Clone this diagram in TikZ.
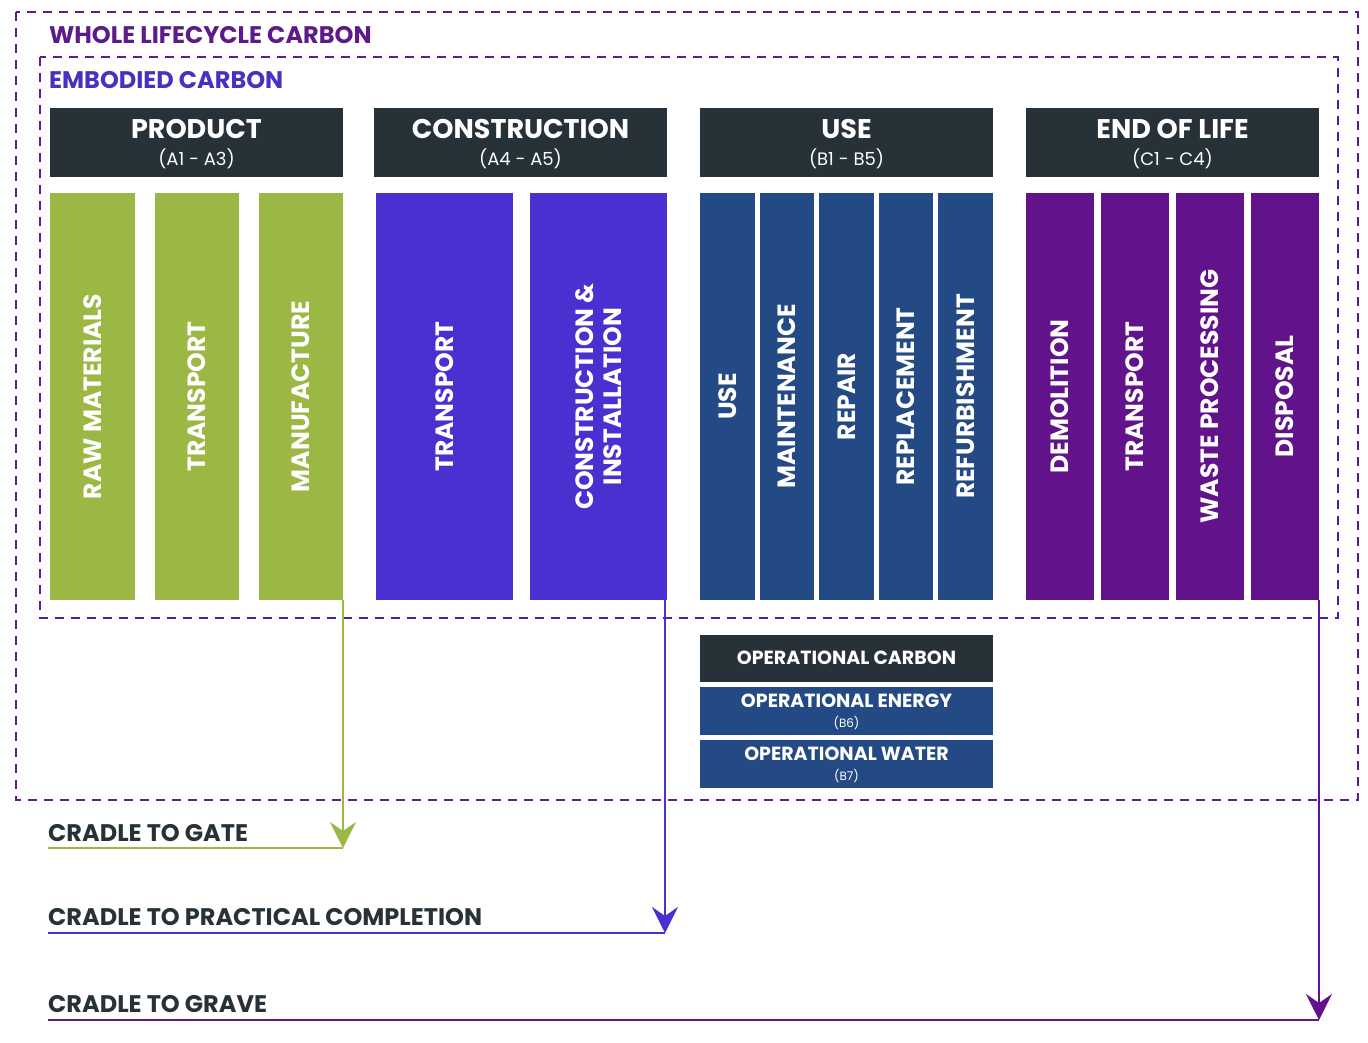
\documentclass[tikz,border=0pt]{standalone}
\usepackage{fontspec}
\setmainfont{Poppins}
\usetikzlibrary{arrows.meta}
\definecolor{dk}{HTML}{263238}
\definecolor{gr}{HTML}{9BB744}
\definecolor{bp}{HTML}{4A30D0}
\definecolor{nb}{HTML}{234A85}
\definecolor{pu}{HTML}{62128A}
\definecolor{ti}{HTML}{5C1A8A}
\definecolor{em}{HTML}{4A30C0}
\tikzset{
 col/.style={draw=none,inner sep=0pt,text=white,font=\fontsize{25}{28}\selectfont\bfseries,align=center},
 hdr/.style={fill=dk,inner sep=0pt,text=white,align=center},
 lbl/.style={anchor=base west,text=dk,inner sep=0pt,font=\fontsize{24}{26}\selectfont\bfseries},
 arr/.style={line width=2pt,-{Stealth[length=26pt,width=26pt,inset=9pt]}},
}
\newcommand{\colbox}[6]{\fill[#5] (#1,193) rectangle (#2,600);
 \node[col,rotate=90] (#6) at ({(#1+#2)/2},396.5) {#4};\coordinate (#6b) at (#2,600);}
\begin{document}
\begin{tikzpicture}[x=1pt,y=-1pt]
\useasboundingbox (0,0) rectangle (1368,1043);
\fill[white] (0,0) rectangle (1368,1043);
\draw[ti,line width=2pt,dash pattern=on 9pt off 7pt] (16,12) rectangle (1358,800);
\draw[ti!80!bp,line width=2pt,dash pattern=on 9pt off 7pt] (40,57) rectangle (1338,618);
\node[anchor=west,text=ti,font=\fontsize{24}{26}\selectfont\bfseries,inner sep=0pt] (t1) at (49,35) {WHOLE LIFECYCLE CARBON};
\node[anchor=west,text=em,font=\fontsize{24}{26}\selectfont\bfseries,inner sep=0pt] (t2) at (49,80) {EMBODIED CARBON};
\foreach \a/\b/\t/\s/\n in {50/343/PRODUCT/(A1 - A3)/h1,374/667/CONSTRUCTION/(A4 - A5)/h2,700/993/USE/(B1 - B5)/h3,1026/1319/END OF LIFE/(C1 - C4)/h4}{
 \fill[dk] (\a,108) rectangle (\b,177);
 \node[text=white,inner sep=0pt,font=\fontsize{27}{30}\selectfont\bfseries] (\n) at ({(\a+\b)/2},129) {\t};
 \node[text=white,inner sep=0pt,font=\fontsize{18}{20}\selectfont] (\n s) at ({(\a+\b)/2},159) {\s};
}
\colbox{50}{135}{}{RAW MATERIALS}{gr}{c1}
\colbox{155}{239}{}{TRANSPORT}{gr}{c2}
\colbox{259}{343}{}{MANUFACTURE}{gr}{c3}
\colbox{376}{513}{}{TRANSPORT}{bp}{c4}
\colbox{530}{667}{}{CONSTRUCTION \&\\INSTALLATION}{bp}{c5}
\colbox{700}{755}{}{USE}{nb}{c6}
\colbox{760}{814}{}{MAINTENANCE}{nb}{c7}
\colbox{819}{874}{}{REPAIR}{nb}{c8}
\colbox{879}{933}{}{REPLACEMENT}{nb}{c9}
\colbox{938}{993}{}{REFURBISHMENT}{nb}{c10}
\colbox{1026}{1094}{}{DEMOLITION}{pu}{c11}
\colbox{1101}{1169}{}{TRANSPORT}{pu}{c12}
\colbox{1176}{1244}{}{WASTE PROCESSING}{pu}{c13}
\colbox{1251}{1319}{}{DISPOSAL}{pu}{c14}
\fill[dk] (700,635) rectangle (993,682);
\node[text=white,inner sep=0pt,font=\fontsize{19}{21}\selectfont\bfseries] (o1) at (846.5,658) {OPERATIONAL CARBON};
\fill[nb] (700,687) rectangle (993,735);
\node[text=white,inner sep=0pt,font=\fontsize{19}{21}\selectfont\bfseries] (o2) at (846.5,701) {OPERATIONAL ENERGY};
\node[text=white,inner sep=0pt,font=\fontsize{12}{14}\selectfont] (o2s) at (846.5,723) {(B6)};
\fill[nb] (700,740) rectangle (993,788);
\node[text=white,inner sep=0pt,font=\fontsize{19}{21}\selectfont\bfseries] (o3) at (846.5,754) {OPERATIONAL WATER};
\node[text=white,inner sep=0pt,font=\fontsize{12}{14}\selectfont] (o3s) at (846.5,776) {(B7)};
\node[lbl] (l1) at (48,841) {CRADLE TO GATE};
\node[lbl] (l2) at (48,925) {CRADLE TO PRACTICAL COMPLETION};
\node[lbl] (l3) at (48,1012) {CRADLE TO GRAVE};
\coordinate (e1) at (343,848); \coordinate (e2) at (665,933); \coordinate (e3) at (1319,1020);
\draw[gr,line width=2.5pt] (48,848) -- (e1);
\draw[gr,arr] (c3b) -- (e1);
\draw[bp,line width=2.5pt] (48,933) -- (e2);
\draw[bp,arr] (665,600) -- (e2);
\draw[pu,line width=2.5pt] (48,1020) -- (e3);
\draw[pu,arr] (c14b) -- (e3);
\end{tikzpicture}
\end{document}
